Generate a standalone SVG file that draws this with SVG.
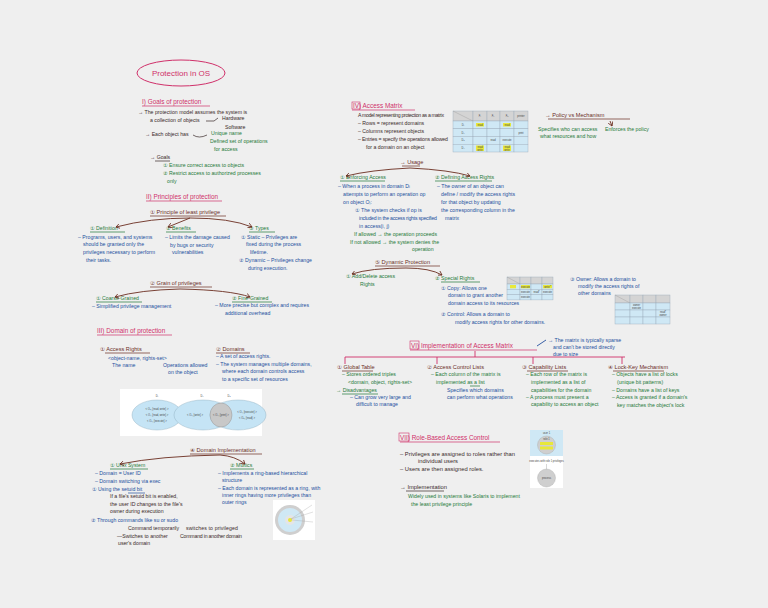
<svg xmlns="http://www.w3.org/2000/svg" width="768" height="608" viewBox="0 0 768 608">
<defs>
<style>
text{font-family:"Liberation Sans","DejaVu Sans",sans-serif;font-size:5.2px}
.h{fill:#d0306a;font-size:6.4px}
.b{fill:#6b2d1f;font-size:5.6px}
.g{fill:#1f7a3a}
.u{fill:#24509e}
.k{fill:#3a2a2a}
.ul{stroke-width:0.7;fill:none}
.cb{stroke:#6b2d1f;stroke-width:0.9;fill:none}
.cp{stroke:#d0306a;stroke-width:0.9;fill:none}
.tb{fill:#cfe8f5;stroke:#9ab;stroke-width:0.4}
.th{fill:#d4d4d4;stroke:#9ab;stroke-width:0.4}
.hl{fill:#e8e83a}
.t3{font-size:2.6px;fill:#444}
</style>
<marker id="ab" markerWidth="5" markerHeight="5" refX="4" refY="2.5" orient="auto" markerUnits="userSpaceOnUse"><path d="M0,0 L4,2.5 L0,5" fill="none" stroke="#6b2d1f" stroke-width="0.8"/></marker>
</defs>
<rect width="768" height="608" fill="#efefef"/>

<g id="title">
<ellipse cx="181" cy="73" rx="44" ry="13" fill="none" stroke="#d0306a" stroke-width="1"/>
<text x="181" y="76" class="h" text-anchor="middle" style="font-size:8px">Protection in OS</text>
</g>

<g id="goals">
<text x="142" y="104" class="h">I) Goals of protection</text>
<line x1="142" y1="106" x2="210" y2="106" stroke="#d0306a" class="ul"/>
<text x="138" y="114" class="k">→ The protection model assumes the system is</text>
<text x="150" y="122" class="k">a collection of objects</text>
<path d="M206,121 l8,0 l4,-3" stroke="#3a2a2a" class="ul"/>
<text x="222" y="120" class="k">Hardware</text>
<text x="225" y="129" class="k">Software</text>
<text x="145" y="136" class="k">→ Each object has</text>
<path d="M193,135 q6,4 14,0" stroke="#3a2a2a" class="ul"/>
<text x="211" y="135" class="g">Unique name</text>
<text x="210" y="143" class="g">Defined set of operations</text>
<text x="214" y="151" class="g">for access</text>
<text x="150" y="159" class="k">→ Goals</text>
<line x1="155" y1="161" x2="170" y2="161" stroke="#3a2a2a" class="ul"/>
<text x="163" y="167" class="g">① Ensure correct access to objects</text>
<text x="163" y="175" class="g">② Restrict access to authorized processes</text>
<text x="167" y="183" class="g">only</text>
</g>

<g id="principles">
<text x="146" y="199" class="h">II) Principles of protection</text>
<line x1="146" y1="201" x2="222" y2="201" stroke="#d0306a" class="ul"/>
<text x="150" y="214" class="b">① Principle of least privilege</text>
<line x1="150" y1="216" x2="226" y2="216" stroke="#6b2d1f" class="ul"/>
</g>

<g id="definition">
<text x="90" y="230" class="g">① Definition</text>
<line x1="90" y1="232" x2="125" y2="232" stroke="#1f7a3a" class="ul"/>
<text x="78" y="239" class="u">– Programs, users, and systems</text>
<text x="83" y="246" class="u">should be granted only the</text>
<text x="83" y="254" class="u">privileges necessary to perform</text>
<text x="86" y="262" class="u">their tasks.</text>
</g>
<g id="benefits">
<text x="166" y="230" class="g">② Benefits</text>
<line x1="166" y1="232" x2="196" y2="232" stroke="#1f7a3a" class="ul"/>
<text x="165" y="239" class="u">– Limits the damage caused</text>
<text x="170" y="247" class="u">by bugs or security</text>
<text x="172" y="254" class="u">vulnerabilities</text>
</g>
<g id="types">
<text x="249" y="230" class="g">③ Types</text>
<line x1="249" y1="232" x2="275" y2="232" stroke="#1f7a3a" class="ul"/>
<text x="241" y="239" class="u">① Static – Privileges are</text>
<text x="246" y="246" class="u">fixed during the process</text>
<text x="250" y="254" class="u">lifetime.</text>
<text x="239" y="262" class="u">② Dynamic – Privileges change</text>
<text x="248" y="270" class="u">during execution.</text>
</g>

<g id="grain">
<text x="150" y="285" class="b">② Grain of privileges</text>
<line x1="150" y1="287" x2="212" y2="287" stroke="#6b2d1f" class="ul"/>
<text x="96" y="300" class="g">① Coarse-Grained</text>
<line x1="96" y1="302" x2="142" y2="302" stroke="#1f7a3a" class="ul"/>
<text x="92" y="308" class="u">– Simplified privilege management</text>
<text x="232" y="300" class="g">② Fine-Grained</text>
<line x1="232" y1="302" x2="272" y2="302" stroke="#1f7a3a" class="ul"/>
<text x="215" y="307" class="u">– More precise but complex and requires</text>
<text x="225" y="315" class="u">additional overhead</text>
</g>

<g id="domain-of-protection">
<text x="97" y="333" class="h">III) Domain of protection</text>
<line x1="97" y1="335" x2="172" y2="335" stroke="#d0306a" class="ul"/>
<text x="100" y="351" class="b">① Access Rights</text>
<line x1="105" y1="353" x2="150" y2="353" stroke="#6b2d1f" class="ul"/>
<text x="108" y="360" class="u">&lt;object-name, rights-set&gt;</text>
<text x="112" y="367" class="u">The name</text>
<text x="163" y="367" class="u">Operations allowed</text>
<text x="168" y="374" class="u">on the object</text>
<text x="216" y="351" class="b">② Domains</text>
<line x1="216" y1="353" x2="250" y2="353" stroke="#6b2d1f" class="ul"/>
<text x="216" y="358" class="u">– A set of access rights.</text>
<text x="216" y="366" class="u">– The system manages multiple domains,</text>
<text x="222" y="373" class="u">where each domain controls access</text>
<text x="222" y="381" class="u">to a specific set of resources</text>
</g>

<g id="domain-figure">
<rect x="120" y="389" width="142" height="47" fill="#ffffff"/>
<text x="157" y="397" class="t3" text-anchor="middle">D₁</text>
<text x="202" y="397" class="t3" text-anchor="middle">D₂</text>
<text x="229" y="397" class="t3" text-anchor="middle">D₃</text>
<ellipse cx="157" cy="415" rx="25" ry="15" fill="#c5e4f5" stroke="#8ab" stroke-width="0.4"/>
<ellipse cx="203" cy="415" rx="29" ry="15" fill="#c5e4f5" stroke="#8ab" stroke-width="0.4"/>
<ellipse cx="238" cy="415" rx="28" ry="15" fill="#c5e4f5" stroke="#8ab" stroke-width="0.4"/>
<ellipse cx="221" cy="415" rx="11" ry="12" fill="#c8c8c8" stroke="#888" stroke-width="0.4"/>
<text x="157" y="410" class="t3" text-anchor="middle">&lt; O₃, {read, write} &gt;</text>
<text x="157" y="416" class="t3" text-anchor="middle">&lt; O₁, {read, write} &gt;</text>
<text x="157" y="422" class="t3" text-anchor="middle">&lt; O₂, {execute} &gt;</text>
<text x="195" y="416" class="t3" text-anchor="middle">&lt; O₂, {write} &gt;</text>
<text x="221" y="416" class="t3" text-anchor="middle">&lt; O₄, {print} &gt;</text>
<text x="247" y="413" class="t3" text-anchor="middle">&lt; O₁, {execute} &gt;</text>
<text x="247" y="419" class="t3" text-anchor="middle">&lt; O₃, {read} &gt;</text>
</g>

<g id="domain-implementation">
<text x="190" y="452" class="b">④ Domain Implementation</text>
<line x1="190" y1="454" x2="262" y2="454" stroke="#6b2d1f" class="ul"/>
</g>
<g id="unix">
<text x="110" y="467" class="g">① Unix System</text>
<line x1="110" y1="469" x2="148" y2="469" stroke="#1f7a3a" class="ul"/>
<text x="95" y="475" class="u">– Domain = User ID</text>
<text x="95" y="483" class="u">– Domain switching via exec</text>
<text x="92" y="491" class="u">① Using the setuid bit</text>
<line x1="128" y1="493" x2="145" y2="493" stroke="#24509e" class="ul"/>
<text x="110" y="498" class="k">If a file's setuid bit is enabled,</text>
<text x="110" y="506" class="k">the user ID changes to the file's</text>
<text x="110" y="513" class="k">owner during execution</text>
<text x="91" y="522" class="u">② Through commands like su or sudo</text>
<text x="128" y="530" class="k">Command temporarily</text>
<text x="186" y="530" class="k" textLength="52">switches to privileged</text>
<text x="117" y="538" class="k">—Switches to another</text>
<text x="180" y="538" class="k" textLength="62">Command in another domain</text>
<text x="118" y="545" class="k">user's domain</text>
</g>
<g id="multics">
<text x="230" y="467" class="g">② Multics</text>
<line x1="230" y1="469" x2="254" y2="469" stroke="#1f7a3a" class="ul"/>
<text x="218" y="475" class="u">– Implements a ring-based hierarchical</text>
<text x="222" y="482" class="u">structure</text>
<text x="218" y="490" class="u">– Each domain is represented as a ring, with</text>
<text x="222" y="497" class="u">inner rings having more privileges than</text>
<text x="222" y="504" class="u">outer rings</text>
<rect x="273" y="500" width="42" height="40" fill="#ffffff"/>
<circle cx="290" cy="520" r="15" fill="#cfcfcf"/>
<circle cx="290" cy="520" r="12" fill="#cfe8f5"/>
<circle cx="290" cy="520" r="5" fill="#e5e5e5"/>
<circle cx="290" cy="520" r="2" fill="#e8e83a"/>
<path d="M291,519 L312,505 M291,519 L313,512 M292,520 L313,522" stroke="#999" stroke-width="0.3"/>
</g>

<g id="access-matrix">
<rect x="352" y="102" width="8" height="7" fill="none" stroke="#d0306a" stroke-width="0.6"/>
<text x="353" y="108" class="h">IV) Access Matrix</text>
<line x1="352" y1="110" x2="415" y2="110" stroke="#d0306a" class="ul"/>
<text x="358" y="117" class="k" textLength="86">A model representing protection as a matrix</text>
<text x="358" y="125" class="k">– Rows = represent domains</text>
<text x="358" y="133" class="k">– Columns represent objects</text>
<text x="358" y="141" class="k" textLength="90">– Entries = specify the operations allowed</text>
<text x="366" y="149" class="k">for a domain on an object</text>
</g>

<g id="matrix-table">
<rect x="453" y="111" width="20" height="10" class="th"/>
<rect x="473" y="111" width="14" height="10" class="th"/>
<rect x="487" y="111" width="13" height="10" class="th"/>
<rect x="500" y="111" width="14" height="10" class="th"/>
<rect x="514" y="111" width="14" height="10" class="th"/>
<line x1="453" y1="111" x2="473" y2="121" stroke="#888" stroke-width="0.3"/>
<g>
<rect x="453" y="121" width="20" height="7.75" class="tb"/><rect x="473" y="121" width="14" height="7.75" class="tb"/><rect x="487" y="121" width="13" height="7.75" class="tb"/><rect x="500" y="121" width="14" height="7.75" class="tb"/><rect x="514" y="121" width="14" height="7.75" class="tb"/>
<rect x="453" y="128.75" width="20" height="7.75" class="tb"/><rect x="473" y="128.75" width="14" height="7.75" class="tb"/><rect x="487" y="128.75" width="13" height="7.75" class="tb"/><rect x="500" y="128.75" width="14" height="7.75" class="tb"/><rect x="514" y="128.75" width="14" height="7.75" class="tb"/>
<rect x="453" y="136.5" width="20" height="7.75" class="tb"/><rect x="473" y="136.5" width="14" height="7.75" class="tb"/><rect x="487" y="136.5" width="13" height="7.75" class="tb"/><rect x="500" y="136.5" width="14" height="7.75" class="tb"/><rect x="514" y="136.5" width="14" height="7.75" class="tb"/>
<rect x="453" y="144.25" width="20" height="7.75" class="tb"/><rect x="473" y="144.25" width="14" height="7.75" class="tb"/><rect x="487" y="144.25" width="13" height="7.75" class="tb"/><rect x="500" y="144.25" width="14" height="7.75" class="tb"/><rect x="514" y="144.25" width="14" height="7.75" class="tb"/>
</g>
<rect x="476" y="123" width="8" height="3.5" class="hl"/>
<rect x="503" y="123" width="8" height="3.5" class="hl"/>
<rect x="476" y="145.5" width="8" height="5.5" class="hl"/>
<rect x="503" y="145.5" width="8" height="5.5" class="hl"/>
<text x="480" y="117" class="t3" text-anchor="middle">F₁</text>
<text x="493" y="117" class="t3" text-anchor="middle">F₂</text>
<text x="507" y="117" class="t3" text-anchor="middle">F₃</text>
<text x="521" y="117" class="t3" text-anchor="middle">printer</text>
<text x="463" y="126" class="t3" text-anchor="middle">D₁</text>
<text x="463" y="134" class="t3" text-anchor="middle">D₂</text>
<text x="463" y="141" class="t3" text-anchor="middle">D₃</text>
<text x="463" y="149" class="t3" text-anchor="middle">D₄</text>
<text x="480" y="126" class="t3" text-anchor="middle">read</text>
<text x="507" y="126" class="t3" text-anchor="middle">read</text>
<text x="521" y="134" class="t3" text-anchor="middle">print</text>
<text x="493" y="141" class="t3" text-anchor="middle">read</text>
<text x="507" y="141" class="t3" text-anchor="middle">execute</text>
<text x="480" y="148" class="t3" text-anchor="middle">read</text>
<text x="480" y="151" class="t3" text-anchor="middle">write</text>
<text x="507" y="148" class="t3" text-anchor="middle">read</text>
<text x="507" y="151" class="t3" text-anchor="middle">write</text>
</g>

<g id="policy">
<text x="545" y="117" class="b">→ Policy vs Mechanism</text>
<line x1="548" y1="119" x2="630" y2="119" stroke="#6b2d1f" class="ul"/>
<text x="538" y="131" class="g">Specifies who can access</text>
<text x="540" y="138" class="g">what resources and how</text>
<text x="605" y="131" class="g">Enforces the policy</text>
</g>

<g id="usage">
<text x="400" y="164" class="b">→ Usage</text>
<line x1="402" y1="166" x2="420" y2="166" stroke="#6b2d1f" class="ul"/>
</g>
<g id="enforcing">
<text x="340" y="179" class="g">① Enforcing Access</text>
<line x1="340" y1="181" x2="385" y2="181" stroke="#1f7a3a" class="ul"/>
<text x="338" y="188" class="u">– When a process in domain Dᵢ</text>
<text x="343" y="196" class="u">attempts to perform an operation op</text>
<text x="343" y="204" class="u">on object Oⱼ:</text>
<text x="355" y="212" class="u">① The system checks if op is</text>
<text x="359" y="220" class="u" textLength="78">included in the access rights specified</text>
<text x="359" y="228" class="u">in access(i, j)</text>
<text x="354" y="236" class="g">If allowed → the operation proceeds</text>
<text x="350" y="244" class="g">If not allowed → the system denies the</text>
<text x="412" y="251" class="g">operation</text>
</g>
<g id="defining">
<text x="435" y="179" class="g">② Defining Access Rights</text>
<line x1="435" y1="181" x2="492" y2="181" stroke="#1f7a3a" class="ul"/>
<text x="437" y="188" class="u">– The owner of an object can</text>
<text x="441" y="196" class="u">define / modify the access rights</text>
<text x="441" y="204" class="u">for that object by updating</text>
<text x="441" y="212" class="u">the corresponding column in the</text>
<text x="445" y="220" class="u">matrix</text>
</g>

<g id="dynamic">
<text x="375" y="264" class="b">⑤ Dynamic Protection</text>
<line x1="375" y1="266" x2="440" y2="266" stroke="#6b2d1f" class="ul"/>
<text x="346" y="278" class="g">① Add/Delete access</text>
<text x="360" y="286" class="g">Rights</text>
<text x="435" y="280" class="g">② Special Rights</text>
<line x1="441" y1="282" x2="480" y2="282" stroke="#1f7a3a" class="ul"/>
<text x="441" y="290" class="u">① Copy: Allows one</text>
<text x="448" y="297" class="u">domain to grant another</text>
<text x="448" y="305" class="u">domain access to its resources</text>
<text x="441" y="316" class="u">② Control: Allows a domain to</text>
<text x="455" y="324" class="u">modify access rights for other domains.</text>
<text x="570" y="281" class="u" textLength="66">③ Owner: Allows a domain to</text>
<text x="578" y="288" class="u">modify the access rights of</text>
<text x="578" y="295" class="u">other domains</text>
</g>
<g id="copy-table">
<rect x="507" y="277" width="13" height="7" class="th"/><rect x="520" y="277" width="11" height="7" class="th"/><rect x="531" y="277" width="11" height="7" class="th"/><rect x="542" y="277" width="11" height="7" class="th"/>
<line x1="507" y1="277" x2="520" y2="284" stroke="#888" stroke-width="0.3"/>
<rect x="507" y="284" width="13" height="5.3" class="tb"/><rect x="520" y="284" width="11" height="5.3" class="tb"/><rect x="531" y="284" width="11" height="5.3" class="tb"/><rect x="542" y="284" width="11" height="5.3" class="tb"/>
<rect x="507" y="289.3" width="13" height="5.3" class="tb"/><rect x="520" y="289.3" width="11" height="5.3" class="tb"/><rect x="531" y="289.3" width="11" height="5.3" class="tb"/><rect x="542" y="289.3" width="11" height="5.3" class="tb"/>
<rect x="507" y="294.6" width="13" height="5.3" class="tb"/><rect x="520" y="294.6" width="11" height="5.3" class="tb"/><rect x="531" y="294.6" width="11" height="5.3" class="tb"/><rect x="542" y="294.6" width="11" height="5.3" class="tb"/>
<rect x="510" y="285" width="6" height="3.3" class="hl"/><rect x="521" y="285" width="9" height="3.3" class="hl"/><rect x="543" y="285" width="9" height="3.3" class="hl"/>
<text x="525.5" y="287.5" class="t3" text-anchor="middle">execute</text>
<text x="547.5" y="287.5" class="t3" text-anchor="middle">write*</text>
<text x="525.5" y="293" class="t3" text-anchor="middle">execute</text>
<text x="536.5" y="293" class="t3" text-anchor="middle">read*</text>
<text x="547.5" y="293" class="t3" text-anchor="middle">execute</text>
<text x="525.5" y="298" class="t3" text-anchor="middle">execute</text>
</g>
<g id="owner-table">
<rect x="615" y="295" width="15" height="8" class="th"/><rect x="630" y="295" width="13" height="8" class="th"/><rect x="643" y="295" width="13" height="8" class="th"/><rect x="656" y="295" width="14" height="8" class="th"/>
<line x1="615" y1="295" x2="630" y2="303" stroke="#888" stroke-width="0.3"/>
<rect x="615" y="303" width="15" height="7" class="tb"/><rect x="630" y="303" width="13" height="7" class="tb"/><rect x="643" y="303" width="13" height="7" class="tb"/><rect x="656" y="303" width="14" height="7" class="tb"/>
<rect x="615" y="310" width="15" height="7" class="tb"/><rect x="630" y="310" width="13" height="7" class="tb"/><rect x="643" y="310" width="13" height="7" class="tb"/><rect x="656" y="310" width="14" height="7" class="tb"/>
<rect x="615" y="317" width="15" height="7" class="tb"/><rect x="630" y="317" width="13" height="7" class="tb"/><rect x="643" y="317" width="13" height="7" class="tb"/><rect x="656" y="317" width="14" height="7" class="tb"/>
<text x="636.5" y="306" class="t3" text-anchor="middle">owner</text>
<text x="636.5" y="309" class="t3" text-anchor="middle">execute</text>
<text x="663" y="313" class="t3" text-anchor="middle">read*</text>
<text x="663" y="316" class="t3" text-anchor="middle">owner</text>
</g>

<g id="implementation">
<rect x="410" y="341" width="9" height="8" fill="none" stroke="#d0306a" stroke-width="0.6"/>
<text x="411" y="347.5" class="h">VI) Implementation of Access Matrix</text>
<line x1="410" y1="350" x2="537" y2="350" stroke="#d0306a" class="ul"/>
<text x="548" y="342" class="u">→ The matrix is typically sparse</text>
<text x="553" y="349" class="u">and can't be stored directly</text>
<text x="553" y="356" class="u">due to size</text>
</g>
<g id="global-table">
<text x="337" y="369" class="b">① Global Table</text>
<line x1="342" y1="371" x2="373" y2="371" stroke="#6b2d1f" class="ul"/>
<text x="342" y="376" class="g">– Stores ordered triples</text>
<text x="348" y="384" class="g">&lt;domain, object, rights-set&gt;</text>
<text x="336" y="392" class="g">→ Disadvantages</text>
<line x1="342" y1="394" x2="378" y2="394" stroke="#1f7a3a" class="ul"/>
<text x="350" y="399" class="u">– Can grow very large and</text>
<text x="356" y="406" class="u">difficult to manage</text>
</g>
<g id="acl">
<text x="427" y="369" class="b">② Access Control Lists</text>
<text x="431" y="376" class="g">– Each column of the matrix is</text>
<text x="436" y="384" class="g">implemented as a list</text>
<line x1="470" y1="386" x2="480" y2="386" stroke="#1f7a3a" class="ul"/>
<text x="447" y="392" class="u">Specifies which domains</text>
<text x="447" y="399" class="u">can perform what operations</text>
</g>
<g id="capability">
<text x="522" y="369" class="b">③ Capability Lists</text>
<line x1="527" y1="371" x2="568" y2="371" stroke="#6b2d1f" class="ul"/>
<text x="526" y="376" class="g">– Each row of the matrix is</text>
<text x="531" y="384" class="g">implemented as a list of</text>
<text x="531" y="392" class="g">capabilities for the domain</text>
<text x="526" y="399" class="g">– A process must present a</text>
<text x="531" y="406" class="g">capability to access an object</text>
</g>
<g id="lock-key">
<text x="608" y="369" class="b">④ Lock-Key Mechanism</text>
<line x1="613" y1="371" x2="664" y2="371" stroke="#6b2d1f" class="ul"/>
<text x="612" y="376" class="g">– Objects have a list of locks</text>
<text x="617" y="384" class="g">(unique bit patterns)</text>
<text x="612" y="392" class="g">– Domains have a list of keys</text>
<text x="612" y="399" class="g">– Access is granted if a domain's</text>
<text x="617" y="407" class="g">key matches the object's lock</text>
</g>

<g id="rbac">
<rect x="399" y="433" width="10" height="8" fill="none" stroke="#d0306a" stroke-width="0.6"/>
<text x="400" y="439.5" class="h">VII) Role-Based Access Control</text>
<line x1="400" y1="442" x2="500" y2="442" stroke="#d0306a" class="ul"/>
<text x="400" y="456" class="k" style="font-size:5.8px">– Privileges are assigned to roles rather than</text>
<text x="418" y="463" class="k" style="font-size:5.8px">individual users</text>
<text x="400" y="471" class="k" style="font-size:5.8px">– Users are then assigned roles.</text>
<text x="400" y="489" class="k" style="font-size:5.8px">→ Implementation</text>
<line x1="406" y1="491" x2="444" y2="491" stroke="#3a2a2a" class="ul"/>
<text x="408" y="498" class="g">Widely used in systems like Solaris to implement</text>
<text x="411" y="506" class="g">the least privilege principle</text>
</g>
<g id="rbac-figure">
<rect x="530" y="430" width="33" height="58" fill="#ffffff"/>
<rect x="530" y="430" width="33" height="26" fill="#cfe8f5"/>
<text x="546.5" y="434" class="t3" text-anchor="middle">user 1</text>
<circle cx="546.5" cy="445" r="9" fill="#cfcfcf" stroke="#999" stroke-width="0.3"/>
<text x="546.5" y="440" class="t3" text-anchor="middle">role 1</text>
<rect x="540" y="442" width="13" height="3" class="hl"/>
<rect x="540" y="446.5" width="13" height="3" class="hl"/>
<text x="546.5" y="462" class="t3" text-anchor="middle">executes with role 1 privileges</text>
<line x1="546.5" y1="464" x2="546.5" y2="469" stroke="#777" stroke-width="0.3"/>
<circle cx="546.5" cy="478" r="9" fill="#cfcfcf" stroke="#999" stroke-width="0.3"/>
<text x="546.5" y="479" class="t3" text-anchor="middle">process</text>
</g>

<g id="connectors">
<path d="M190,218 Q150,218 116,227" class="cb" marker-end="url(#ab)"/>
<path d="M190,218 L168,227" class="cb" marker-end="url(#ab)"/>
<path d="M190,218 Q230,218 252,227" class="cb" marker-end="url(#ab)"/>
<path d="M180,289 Q140,290 115,297" class="cb" marker-end="url(#ab)"/>
<path d="M180,289 Q230,290 250,297" class="cb" marker-end="url(#ab)"/>
<path d="M220,455 Q160,456 120,464" class="cb" marker-end="url(#ab)"/>
<path d="M220,455 Q235,456 245,464" class="cb" marker-end="url(#ab)"/>
<path d="M410,168 Q370,170 346,176" class="cb" marker-end="url(#ab)"/>
<path d="M410,168 Q450,170 470,176" class="cb" marker-end="url(#ab)"/>
<path d="M406,268 Q370,268 352,274" class="cb" marker-end="url(#ab)"/>
<path d="M406,268 Q430,268 442,275" class="cb" marker-end="url(#ab)"/>
<path d="M610,121 L612,126" class="cb" marker-end="url(#ab)"/>
<path d="M537,346 L546,340" class="cb" style="stroke:#24509e"/>
<path d="M475,351 L475,357 M345,357 L625,357 M345,357 L345,364 M437,357 L437,364 M533,357 L533,364 M622,357 L622,364" class="cp"/>
</g>
</svg>
